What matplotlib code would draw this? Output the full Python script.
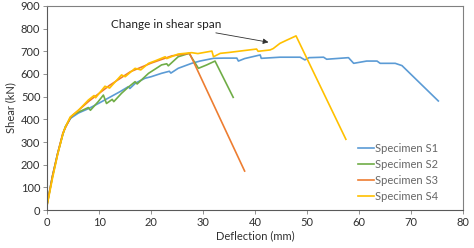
import matplotlib.pyplot as plt

s1_x = [0, 1, 2, 3, 3.5, 4.5, 6, 8, 10, 12, 14, 15.6, 15.9, 17, 18.8, 20, 22, 23.5, 23.8, 25.2, 27.8,
        29.4, 32, 34, 36.5, 36.8, 38, 41, 41.2, 44.8, 48.7, 49.6, 50.4, 53.2, 53.8, 58, 59,
        61.5, 63.5, 64.1, 67, 68.3, 75.3]
s1_y = [30, 150, 250, 335, 368, 405, 428, 448, 472, 497, 522, 544, 536, 560, 581, 588, 603, 612, 604, 625, 647,
        657, 669, 670, 670, 657, 668, 684, 669, 674, 674, 662, 672, 674, 665, 672, 647,
        657, 657, 647, 647, 637, 481]

s2_x = [0, 1, 2, 3, 3.5, 4.4, 5, 6, 7.9, 8.3, 9.8, 10.8, 11.4, 12.5, 12.8, 14.3, 15.5, 16.9, 17.3,
        19.5, 21, 22, 23, 23.3, 25.2, 27.3, 29.1, 30.7, 32.3, 35.8]
s2_y = [30, 150, 250, 335, 368, 404, 420, 432, 452, 440, 478, 507, 470, 488, 478, 515, 540, 566, 556,
        603, 625, 640, 645, 636, 676, 691, 625, 640, 657, 497]

s3_x = [0, 1, 2, 3, 4.5, 8, 12, 16, 20, 24, 27.4, 38.0]
s3_y = [30, 150, 250, 340, 410, 480, 550, 610, 648, 680, 691, 172]

s4_x = [0, 1, 2, 3, 3.4, 4.4, 6, 7.9, 9, 9.3, 11.1, 12, 14.3, 15, 16.9, 18, 19.5, 21, 22.7,
        23, 25.2, 27.8, 29, 31.7, 32, 33.3, 35, 37.1, 40.3, 40.6, 42.9, 43.5, 44.8, 46, 47.9, 57.5]
s4_y = [25, 140, 245, 335, 362, 410, 440, 485, 505, 495, 546, 538, 596, 588, 625, 618, 647, 660, 676,
        668, 688, 694, 690, 701, 676, 691, 695, 701, 710, 700, 706, 712, 735, 748, 768, 312]

series = [
    ("Specimen S1", s1_x, s1_y, "#5B9BD5"),
    ("Specimen S2", s2_x, s2_y, "#70AD47"),
    ("Specimen S3", s3_x, s3_y, "#ED7D31"),
    ("Specimen S4", s4_x, s4_y, "#FFC000"),
]

plt.rcParams['font.family'] = ['Lato', 'DejaVu Sans']

fig = plt.figure(figsize=(4.74, 2.48), dpi=100)
ax = fig.add_axes([0.0998, 0.153, 0.8764, 0.823])

for name, xs, ys, color in series:
    ax.plot(xs, ys, color=color, linewidth=1.2, label=name)

ax.set_xlim(0, 80)
ax.set_ylim(0, 900)
ax.set_xticks(range(0, 81, 10))
ax.set_yticks(range(0, 901, 100))
ax.tick_params(labelsize=8, length=3, width=0.6, color='#808080', labelcolor='#303030', pad=2)

for side in ['left', 'bottom']:
    ax.spines[side].set_color('#595959')
    ax.spines[side].set_linewidth(0.8)
for side in ['top', 'right']:
    ax.spines[side].set_color('#808080')
    ax.spines[side].set_linewidth(0.8)

ax.set_xlabel("Deflection (mm)", fontsize=8, color='#303030', labelpad=2)
ax.set_ylabel("Shear (kN)", fontsize=8, color='#303030', labelpad=3)

ax.annotate("Change in shear span", xy=(42.6, 740), xytext=(33.6, 820),
            fontsize=8.5, color='#202020', ha='right', va='center',
            arrowprops=dict(arrowstyle='-|>', color='#303030', lw=0.6,
                            mutation_scale=8, shrinkA=2, shrinkB=0))

ax.legend(loc='lower left', bbox_to_anchor=(0.728, 0.0), frameon=False,
          fontsize=8, labelcolor='#666666', handlelength=1.5, handletextpad=0.1,
          labelspacing=0.45, borderpad=0.2)

plt.savefig("out.png", dpi=100)
